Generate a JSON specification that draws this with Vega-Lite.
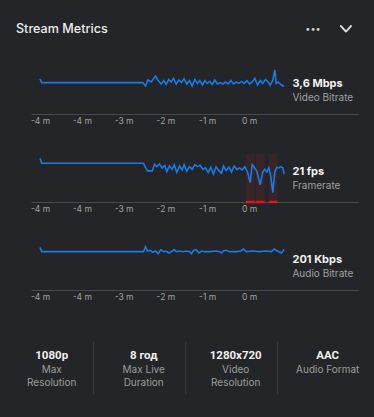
{
  "$schema": "https://vega.github.io/schema/vega-lite/v6.json",
  "background": "#242528",
  "padding": {"left": 4, "top": 0, "right": 7, "bottom": 23},
  "spacing": 52,
  "bounds": "flush",
  "config": {
    "font": "Inter",
    "view": {"stroke": null},
    "axis": {"grid": false, "ticks": false, "domainColor": "#48494c", "labelColor": "#a2a2a2", "labelFontSize": 8.5, "labelPadding": 2, "labelFlush": false},
    "line": {"color": "#1a7ae6", "strokeWidth": 1.6}
  },
  "datasets": {
    "header": [{"title": "Stream Metrics", "menu": "•••"}],
    "bitrate": [
      {"t": -292, "v": 3.95}, {"t": -290, "v": 3.77}, {"t": -169, "v": 3.77},
      {"t": -165.8, "v": 3.60}, {"t": -163.0, "v": 3.90}, {"t": -159.0, "v": 3.80}, {"t": -153.8, "v": 4.10},
      {"t": -151.1, "v": 3.90}, {"t": -147.1, "v": 3.70}, {"t": -143.9, "v": 3.87}, {"t": -141.1, "v": 3.68},
      {"t": -137.9, "v": 3.93}, {"t": -135.1, "v": 3.80}, {"t": -132.3, "v": 3.98}, {"t": -129.1, "v": 3.70},
      {"t": -125.9, "v": 3.90}, {"t": -122.7, "v": 3.77}, {"t": -119.6, "v": 3.97}, {"t": -116.4, "v": 3.70},
      {"t": -113.2, "v": 3.87}, {"t": -110.0, "v": 3.60}, {"t": -106.8, "v": 3.93}, {"t": -103.6, "v": 3.73},
      {"t": -100.8, "v": 3.87}, {"t": -97.6, "v": 3.65}, {"t": -94.8, "v": 3.87}, {"t": -92.0, "v": 3.73},
      {"t": -88.8, "v": 3.83}, {"t": -86.1, "v": 3.67}, {"t": -82.9, "v": 3.90}, {"t": -79.7, "v": 3.70},
      {"t": -76.5, "v": 3.77}, {"t": -73.3, "v": 3.70}, {"t": -70.1, "v": 3.80}, {"t": -66.9, "v": 3.70},
      {"t": -63.7, "v": 3.87}, {"t": -60.5, "v": 3.70}, {"t": -57.4, "v": 3.80}, {"t": -54.2, "v": 3.73},
      {"t": -51.0, "v": 3.83}, {"t": -47.8, "v": 3.73}, {"t": -44.6, "v": 3.87}, {"t": -41.4, "v": 3.70},
      {"t": -38.2, "v": 3.80}, {"t": -35.0, "v": 3.98}, {"t": -31.8, "v": 3.65}, {"t": -28.6, "v": 3.87},
      {"t": -25.5, "v": 3.73}, {"t": -22.3, "v": 3.93}, {"t": -19.1, "v": 3.80}, {"t": -16.7, "v": 3.63},
      {"t": -13.5, "v": 3.90}, {"t": -11.1, "v": 4.40}, {"t": -9.5, "v": 3.73}, {"t": -7.1, "v": 3.80},
      {"t": -4.7, "v": 3.70}, {"t": -1.5, "v": 3.60}, {"t": 0, "v": 3.62}
    ],
    "bitrateLabel": [{"current": "3,6 Mbps", "name": "Video Bitrate"}],
    "framerate": [
      {"t": -292, "v": 33.9}, {"t": -290, "v": 30.0}, {"t": -168.2, "v": 30.0},
      {"t": -165.8, "v": 26.9}, {"t": -163.4, "v": 24.1}, {"t": -157.8, "v": 24.1}, {"t": -155.0, "v": 29.2},
      {"t": -152.2, "v": 27.4}, {"t": -149.1, "v": 29.5}, {"t": -145.9, "v": 26.4}, {"t": -142.7, "v": 28.4},
      {"t": -140.3, "v": 23.5}, {"t": -137.1, "v": 27.9}, {"t": -133.9, "v": 25.3}, {"t": -131.5, "v": 28.7},
      {"t": -128.3, "v": 23.0}, {"t": -125.1, "v": 27.9}, {"t": -121.9, "v": 24.8}, {"t": -119.6, "v": 29.0},
      {"t": -116.4, "v": 23.8}, {"t": -113.2, "v": 27.4}, {"t": -110.0, "v": 25.3}, {"t": -106.8, "v": 29.0},
      {"t": -103.6, "v": 27.4}, {"t": -100.4, "v": 28.4}, {"t": -97.2, "v": 25.3}, {"t": -94.0, "v": 26.4},
      {"t": -90.8, "v": 22.8}, {"t": -87.7, "v": 26.9}, {"t": -84.5, "v": 21.7}, {"t": -81.3, "v": 27.4},
      {"t": -78.1, "v": 24.3}, {"t": -74.9, "v": 22.3}, {"t": -72.5, "v": 27.9}, {"t": -69.3, "v": 24.3},
      {"t": -66.1, "v": 26.9}, {"t": -62.9, "v": 23.3}, {"t": -59.7, "v": 27.9}, {"t": -56.6, "v": 25.3},
      {"t": -53.4, "v": 26.4}, {"t": -50.2, "v": 24.8}, {"t": -47.0, "v": 27.4}, {"t": -43.8, "v": 23.3},
      {"t": -40.6, "v": 15.0}, {"t": -38.2, "v": 29.0}, {"t": -35.8, "v": 26.9}, {"t": -32.6, "v": 23.8},
      {"t": -28.6, "v": 13.2}, {"t": -25.5, "v": 23.3}, {"t": -23.1, "v": 25.3}, {"t": -20.7, "v": 23.3},
      {"t": -18.3, "v": 26.4}, {"t": -15.9, "v": 19.7}, {"t": -13.5, "v": 7.3}, {"t": -11.1, "v": 23.3},
      {"t": -8.7, "v": 26.9}, {"t": -6.3, "v": 26.4}, {"t": -3.9, "v": 27.4}, {"t": -1.5, "v": 26.4},
      {"t": 0, "v": 21.7}
    ],
    "drops": [{"t": -45.8, "t2": -35.1}, {"t": -33.9, "t2": -23.1}, {"t": -18.3, "t2": -7.9}],
    "framerateLabel": [{"current": "21 fps", "name": "Framerate"}],
    "audio": [
      {"t": -292, "v": 213.3}, {"t": -290, "v": 191.7}, {"t": -168.2, "v": 191.7},
      {"t": -165.8, "v": 216.7}, {"t": -163.4, "v": 195.0}, {"t": -160.2, "v": 198.3}, {"t": -157.0, "v": 188.3},
      {"t": -153.8, "v": 195.0}, {"t": -150.7, "v": 181.7}, {"t": -147.5, "v": 201.7}, {"t": -144.3, "v": 191.7},
      {"t": -141.1, "v": 195.0}, {"t": -137.9, "v": 185.0}, {"t": -134.7, "v": 191.7}, {"t": -131.5, "v": 201.7},
      {"t": -129.1, "v": 191.7}, {"t": -125.1, "v": 195.0}, {"t": -121.1, "v": 191.7}, {"t": -117.2, "v": 195.0},
      {"t": -113.2, "v": 191.7}, {"t": -110.8, "v": 181.7}, {"t": -108.4, "v": 198.3}, {"t": -105.2, "v": 201.7},
      {"t": -102.0, "v": 185.0}, {"t": -98.8, "v": 195.0}, {"t": -94.8, "v": 191.7}, {"t": -89.2, "v": 191.7},
      {"t": -81.3, "v": 195.0}, {"t": -77.3, "v": 191.7}, {"t": -74.9, "v": 185.0}, {"t": -72.5, "v": 195.0},
      {"t": -69.3, "v": 198.3}, {"t": -65.3, "v": 191.7}, {"t": -57.4, "v": 191.7}, {"t": -51.8, "v": 195.0},
      {"t": -48.6, "v": 205.0}, {"t": -45.4, "v": 191.7}, {"t": -37.4, "v": 195.0}, {"t": -29.4, "v": 191.7},
      {"t": -21.5, "v": 195.0}, {"t": -15.1, "v": 191.7}, {"t": -11.9, "v": 205.0}, {"t": -9.5, "v": 198.3},
      {"t": -6.3, "v": 191.7}, {"t": -3.1, "v": 185.0}, {"t": 0, "v": 203.3}
    ],
    "audioLabel": [{"current": "201 Kbps", "name": "Audio Bitrate"}],
    "stats": [
      {"metric": "Max Resolution", "value": "1080p", "label": "Max\nResolution"},
      {"metric": "Max Live Duration", "value": "8 год", "label": "Max Live\nDuration"},
      {"metric": "Video Resolution", "value": "1280x720", "label": "Video\nResolution"},
      {"metric": "Audio Format", "value": "AAC", "label": "Audio Format"}
    ]
  },
  "vconcat": [
    {
      "width": 363, "height": 26,
      "data": {"name": "header"},
      "layer": [
        {"mark": {"type": "text", "align": "left", "baseline": "alphabetic", "dy": 20.3, "fontSize": 12.6, "fontWeight": 500, "color": "#ececec"},
         "encoding": {"x": {"datum": 0.033, "type": "quantitative", "scale": {"domain": [0, 1]}, "axis": null}, "text": {"field": "title"}}},
        {"mark": {"type": "text", "align": "center", "baseline": "middle", "dy": 16, "fontSize": 9, "color": "#d0d0d0"},
         "encoding": {"x": {"datum": 0.851, "type": "quantitative"}, "text": {"field": "menu"}}},
        {"mark": {"type": "point", "shape": "M-1,-0.55L0,0.55L1,-0.55", "size": 100, "filled": false, "color": "#dcdcdc", "strokeWidth": 2, "yOffset": 15.8, "strokeCap": "round", "strokeJoin": "round", "opacity": 1},
         "encoding": {"x": {"datum": 0.942, "type": "quantitative"}}}
      ]
    },
    {
      "width": 363, "height": 36,
      "layer": [
        {"data": {"name": "bitrate"}, "mark": {"type": "line"},
         "encoding": {
           "x": {"field": "t", "type": "quantitative", "scale": {"domain": [-302.8, 88.4], "range": [27, 354], "nice": false, "zero": false},
                 "axis": {"title": null, "values": [-292, -242, -192, -142, -92, -42], "labelExpr": "ceil(datum.value/60) + ' m'"}},
           "y": {"field": "v", "type": "quantitative", "scale": {"domain": [2.2, 4.0], "nice": false, "zero": false}, "axis": null}
         }},
        {"data": {"name": "bitrateLabel"}, "mark": {"type": "text", "align": "left", "baseline": "alphabetic", "dy": -9.5, "fontSize": 11, "fontWeight": "bold", "color": "#f2f2f2"},
         "encoding": {"x": {"datum": 10, "type": "quantitative"}, "text": {"field": "current"}}},
        {"data": {"name": "bitrateLabel"}, "mark": {"type": "text", "align": "left", "baseline": "alphabetic", "dy": 5, "fontSize": 10, "color": "#a0a0a0"},
         "encoding": {"x": {"datum": 10, "type": "quantitative"}, "text": {"field": "name"}}}
      ]
    },
    {
      "width": 363, "height": 36,
      "layer": [
        {"data": {"name": "drops"}, "mark": {"type": "rect", "fill": "#e5262a", "opacity": 0.1},
         "encoding": {
           "x": {"field": "t", "type": "quantitative", "scale": {"domain": [-302.8, 88.4], "range": [27, 354], "nice": false, "zero": false},
                 "axis": {"title": null, "values": [-292, -242, -192, -142, -92, -42], "labelExpr": "ceil(datum.value/60) + ' m'"}},
           "x2": {"field": "t2"},
           "y": {"datum": 0, "type": "quantitative", "scale": {"domain": [0, 27.9], "nice": false, "zero": false}, "axis": null},
           "y2": {"datum": 37.2}
         }},
        {"data": {"name": "drops"}, "mark": {"type": "rule", "color": "#e3131b", "strokeWidth": 2.5},
         "encoding": {"x": {"field": "t", "type": "quantitative"}, "x2": {"field": "t2"}, "y": {"datum": 0, "type": "quantitative"}}},
        {"data": {"name": "framerate"}, "mark": {"type": "line"},
         "encoding": {"x": {"field": "t", "type": "quantitative"}, "y": {"field": "v", "type": "quantitative"}}},
        {"data": {"name": "framerateLabel"}, "mark": {"type": "text", "align": "left", "baseline": "alphabetic", "dy": -9.5, "fontSize": 11, "fontWeight": "bold", "color": "#f2f2f2"},
         "encoding": {"x": {"datum": 10, "type": "quantitative"}, "text": {"field": "current"}}},
        {"data": {"name": "framerateLabel"}, "mark": {"type": "text", "align": "left", "baseline": "alphabetic", "dy": 5, "fontSize": 10, "color": "#a0a0a0"},
         "encoding": {"x": {"datum": 10, "type": "quantitative"}, "text": {"field": "name"}}}
      ]
    },
    {
      "width": 363, "height": 36,
      "layer": [
        {"data": {"name": "audio"}, "mark": {"type": "line"},
         "encoding": {
           "x": {"field": "t", "type": "quantitative", "scale": {"domain": [-302.8, 88.4], "range": [27, 354], "nice": false, "zero": false},
                 "axis": {"title": null, "values": [-292, -242, -192, -142, -92, -42], "labelExpr": "ceil(datum.value/60) + ' m'"}},
           "y": {"field": "v", "type": "quantitative", "scale": {"domain": [0, 180], "nice": false, "zero": false}, "axis": null}
         }},
        {"data": {"name": "audioLabel"}, "mark": {"type": "text", "align": "left", "baseline": "alphabetic", "dy": -9.5, "fontSize": 11, "fontWeight": "bold", "color": "#f2f2f2"},
         "encoding": {"x": {"datum": 10, "type": "quantitative"}, "text": {"field": "current"}}},
        {"data": {"name": "audioLabel"}, "mark": {"type": "text", "align": "left", "baseline": "alphabetic", "dy": 5, "fontSize": 10, "color": "#a0a0a0"},
         "encoding": {"x": {"datum": 10, "type": "quantitative"}, "text": {"field": "name"}}}
      ]
    },
    {
      "width": 363, "height": 52,
      "data": {"name": "stats"},
      "encoding": {
        "x": {"field": "metric", "type": "nominal", "sort": null,
              "scale": {"domain": ["Max Resolution", "Max Live Duration", "Video Resolution", "Audio Format"], "range": [-2.3, 365.7], "paddingInner": 0, "paddingOuter": 0},
              "axis": null}
      },
      "layer": [
        {"transform": [{"filter": "datum.metric != 'Max Resolution'"}],
         "mark": {"type": "rule", "color": "#3c3d41", "strokeWidth": 1},
         "encoding": {"x": {"field": "metric", "type": "nominal", "bandPosition": 0}}},
        {"mark": {"type": "text", "dx": 4, "dy": -9.5, "baseline": "alphabetic", "fontSize": 11.5, "fontWeight": "bold", "font": "Roboto", "color": "#efefef"},
         "encoding": {"text": {"field": "value"}}},
        {"mark": {"type": "text", "dx": 4, "dy": 5.3, "baseline": "alphabetic", "fontSize": 10, "lineHeight": 12.4, "lineBreak": "\n", "color": "#9c9c9c"},
         "encoding": {"text": {"field": "label"}}}
      ]
    }
  ]
}
